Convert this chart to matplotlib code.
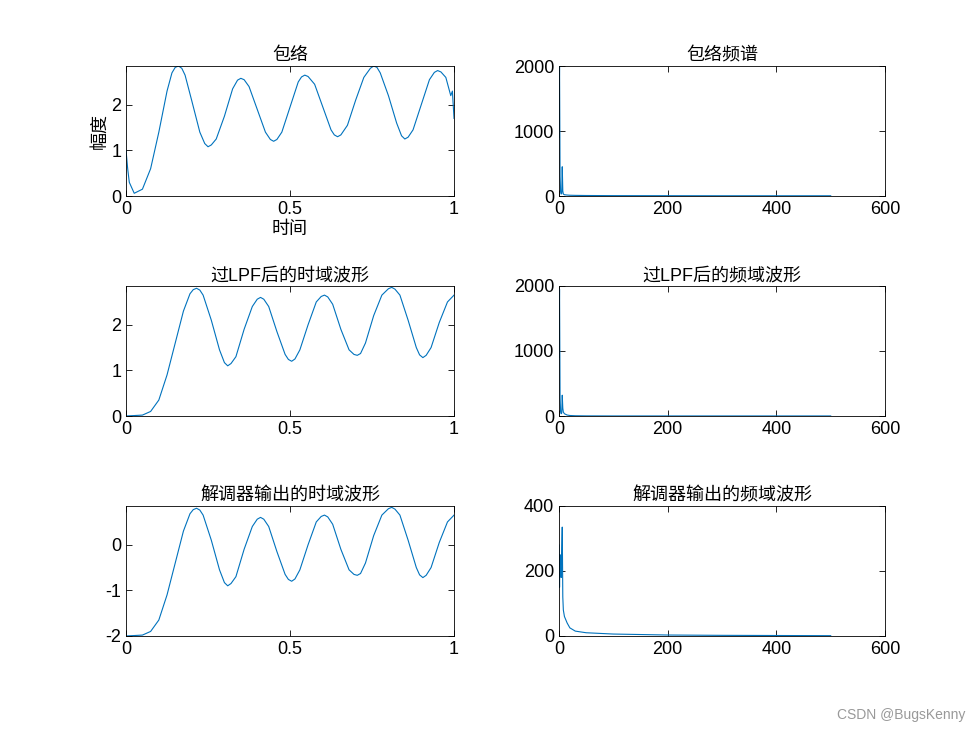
import matplotlib
matplotlib.use("Agg")
import matplotlib.pyplot as plt
import numpy as np

plt.rcParams['font.family'] = ['Liberation Sans', 'Noto Sans CJK SC', 'DejaVu Sans']
plt.rcParams['axes.unicode_minus'] = False

env_t = [0, 0.005, 0.01, 0.025, 0.05, 0.075, 0.1, 0.125, 0.14, 0.15, 0.16, 0.17, 0.18, 0.2, 0.225, 0.24, 0.25, 0.26,
         0.275, 0.3, 0.325, 0.34, 0.35, 0.36, 0.375, 0.4, 0.425, 0.44, 0.45, 0.46, 0.475, 0.5, 0.525, 0.535, 0.545,
         0.555, 0.575, 0.6, 0.625, 0.635, 0.645, 0.655, 0.675, 0.7, 0.725, 0.745, 0.755, 0.765, 0.775, 0.8, 0.825,
         0.84, 0.85, 0.86, 0.875, 0.9, 0.925, 0.94, 0.95, 0.96, 0.975, 0.99, 0.995, 1.0]
env_y = [1.0, 0.6, 0.3, 0.06, 0.15, 0.6, 1.4, 2.3, 2.7, 2.82, 2.85, 2.8, 2.65, 2.1, 1.4, 1.15, 1.08, 1.12,
         1.25, 1.75, 2.35, 2.54, 2.58, 2.55, 2.4, 1.9, 1.4, 1.24, 1.2, 1.24, 1.4, 1.95, 2.5, 2.61, 2.65,
         2.62, 2.45, 1.95, 1.45, 1.34, 1.3, 1.34, 1.55, 2.1, 2.6, 2.8, 2.85, 2.82, 2.7, 2.2, 1.6,
         1.32, 1.25, 1.29, 1.45, 2.0, 2.55, 2.71, 2.75, 2.72, 2.6, 2.2, 2.3, 1.7]

lpf_t = [0, 0.05, 0.075, 0.1, 0.125, 0.15, 0.175, 0.195, 0.205, 0.215, 0.225, 0.235, 0.26, 0.285, 0.3, 0.31, 0.32,
         0.335, 0.36, 0.385, 0.4, 0.41, 0.42, 0.435, 0.46, 0.485, 0.495, 0.505, 0.515, 0.53, 0.555, 0.58, 0.595,
         0.605, 0.615, 0.63, 0.655, 0.68, 0.695, 0.705, 0.715, 0.73, 0.755, 0.78, 0.8, 0.81, 0.82, 0.835, 0.86,
         0.885, 0.895, 0.905, 0.915, 0.93, 0.955, 0.98, 1.0]
lpf_y = [0, 0.02, 0.1, 0.35, 0.9, 1.6, 2.3, 2.68, 2.77, 2.8, 2.76, 2.65, 2.1, 1.45, 1.17, 1.1, 1.15, 1.3,
         1.9, 2.4, 2.56, 2.6, 2.56, 2.4, 1.85, 1.35, 1.24, 1.2, 1.25, 1.45, 2.0, 2.5, 2.62, 2.65,
         2.61, 2.45, 1.9, 1.45, 1.35, 1.33, 1.37, 1.6, 2.2, 2.65, 2.79, 2.82, 2.78, 2.65, 2.1,
         1.5, 1.34, 1.28, 1.33, 1.5, 2.05, 2.5, 2.65]
demod_y = [-2.0, -1.98, -1.9, -1.65, -1.1, -0.4, 0.3, 0.68, 0.77, 0.8, 0.76, 0.65, 0.1, -0.55, -0.83, -0.9, -0.85,
           -0.7, -0.1, 0.4, 0.56, 0.6, 0.56, 0.4, -0.15, -0.65, -0.76, -0.8, -0.75, -0.55, 0.0, 0.5, 0.62,
           0.65, 0.61, 0.45, -0.1, -0.55, -0.65, -0.67, -0.63, -0.4, 0.2, 0.65, 0.79, 0.82, 0.78, 0.65, 0.1,
           -0.5, -0.66, -0.72, -0.67, -0.5, 0.05, 0.5, 0.65]

f = [0, 1, 2, 3, 4, 5, 6, 7, 8, 10, 15, 20, 30, 50, 100, 200, 300, 400, 500]
spec_env = [900, 2000, 300, 60, 30, 40, 450, 80, 30, 20, 15, 12, 10, 8, 6, 5, 4, 4, 4]
spec_lpf = [900, 1950, 280, 60, 35, 45, 320, 120, 60, 35, 15, 8, 4, 2, 1, 1, 1, 1, 1]
spec_dem = [280, 150, 250, 200, 180, 260, 335, 120, 80, 60, 40, 25, 15, 10, 6, 3, 2, 1.5, 1]

fig = plt.figure(figsize=(9.8, 7.35), dpi=100)
L = [0.1286, 0.5704]
W = [0.3347, 0.3327]
B = [0.7333, 0.434, 0.1347]
H = 0.1769
col = '#0072BD'
titles = [['包络', '包络频谱'], ['过LPF后的时域波形', '过LPF后的频域波形'], ['解调器输出的时域波形', '解调器输出的频域波形']]
tdata = [(env_t, env_y), (lpf_t, lpf_y), (lpf_t, demod_y)]
fdata = [spec_env, spec_lpf, spec_dem]

for r in range(3):
    for c in range(2):
        ax = fig.add_axes([L[c], B[r], W[c], H])
        if c == 0:
            ax.plot(tdata[r][0], tdata[r][1], color=col, lw=0.8)
            ax.set_xlim(0, 1)
            ax.set_xticks([0, 0.5, 1])
            ax.set_xticklabels(['0', '0.5', '1'])
            if r < 2:
                ax.set_ylim(0, 2.85)
                ax.set_yticks([0, 1, 2])
            else:
                ax.set_ylim(-2, 0.85)
                ax.set_yticks([-2, -1, 0])
        else:
            ax.plot(f, fdata[r], color=col, lw=0.8)
            ax.set_xlim(0, 600)
            ax.set_xticks([0, 200, 400, 600])
            if r < 2:
                ax.set_ylim(0, 2000)
                ax.set_yticks([0, 1000, 2000])
            else:
                ax.set_ylim(0, 400)
                ax.set_yticks([0, 200, 400])
        ax.set_title(titles[r][c], fontsize=13, pad=4)
        ax.tick_params(direction='in', top=True, right=True, labelsize=13, length=4, width=0.6)
        for s in ax.spines.values():
            s.set_linewidth(0.6)
        if r == 0 and c == 0:
            ax.set_xlabel('时间', fontsize=13, labelpad=2)
            ax.set_ylabel('幅度', fontsize=13, labelpad=2)

fig.text(0.985, 0.018, 'CSDN @BugsKenny', ha='right', va='bottom', fontsize=10, color='#999999')
fig.savefig('out.png', dpi=100)
